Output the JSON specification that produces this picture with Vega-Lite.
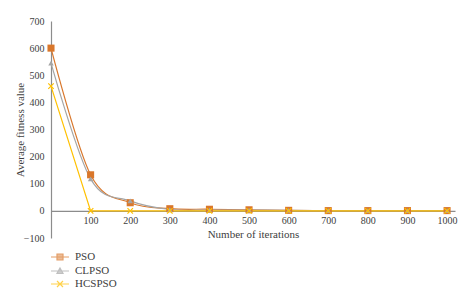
{
  "$schema": "https://vega.github.io/schema/vega-lite/v6.json",
  "width": 404,
  "height": 217,
  "autosize": "none",
  "padding": {"left": 51, "top": 21, "right": 19, "bottom": 64},
  "background": "white",
  "config": {
    "view": {"stroke": null},
    "axis": {"labelFont": "Liberation Serif", "titleFont": "Liberation Serif", "labelFontSize": 10, "titleFontSize": 11, "labelColor": "#404040", "titleColor": "#404040", "titleFontWeight": "normal", "grid": false, "ticks": false, "domainColor": "#8c8c8c", "domainWidth": 1.2},
    "legend": {"labelFont": "Liberation Serif", "labelFontSize": 11, "labelColor": "#404040", "symbolSize": 144, "symbolStrokeWidth": 1.2, "rowPadding": 1, "labelOffset": 8}
  },
  "data": {"values": [
    {"it": 0, "s": "PSO", "v": 600}, {"it": 100, "s": "PSO", "v": 133}, {"it": 200, "s": "PSO", "v": 30}, {"it": 300, "s": "PSO", "v": 8}, {"it": 400, "s": "PSO", "v": 6}, {"it": 500, "s": "PSO", "v": 4}, {"it": 600, "s": "PSO", "v": 2}, {"it": 700, "s": "PSO", "v": 1}, {"it": 800, "s": "PSO", "v": 1}, {"it": 900, "s": "PSO", "v": 1}, {"it": 1000, "s": "PSO", "v": 1},
    {"it": 0, "s": "CLPSO", "v": 545}, {"it": 100, "s": "CLPSO", "v": 118}, {"it": 200, "s": "CLPSO", "v": 37}, {"it": 300, "s": "CLPSO", "v": 5}, {"it": 400, "s": "CLPSO", "v": 3}, {"it": 500, "s": "CLPSO", "v": 3}, {"it": 600, "s": "CLPSO", "v": 2}, {"it": 700, "s": "CLPSO", "v": 1}, {"it": 800, "s": "CLPSO", "v": 1}, {"it": 900, "s": "CLPSO", "v": 1}, {"it": 1000, "s": "CLPSO", "v": 1},
    {"it": 0, "s": "HCSPSO", "v": 460}, {"it": 100, "s": "HCSPSO", "v": 0}, {"it": 200, "s": "HCSPSO", "v": 0}, {"it": 300, "s": "HCSPSO", "v": 0}, {"it": 400, "s": "HCSPSO", "v": 0}, {"it": 500, "s": "HCSPSO", "v": 0}, {"it": 600, "s": "HCSPSO", "v": 0}, {"it": 700, "s": "HCSPSO", "v": 0}, {"it": 800, "s": "HCSPSO", "v": 0}, {"it": 900, "s": "HCSPSO", "v": 0}, {"it": 1000, "s": "HCSPSO", "v": 0}
  ]},
  "encoding": {
    "x": {"field": "it", "type": "quantitative", "scale": {"domain": [0, 1020], "nice": false, "zero": false},
      "axis": {"title": "Number of iterations", "format": "d", "values": [100, 200, 300, 400, 500, 600, 700, 800, 900, 1000], "offset": -27.125, "labelPadding": 5, "titlePadding": 3}},
    "y": {"field": "v", "type": "quantitative", "scale": {"domain": [-100, 700], "nice": false},
      "axis": {"title": "Average fitness value", "values": [-100, 0, 100, 200, 300, 400, 500, 600, 700], "labelPadding": 7, "titlePadding": -2}}
  },
  "layer": [
    {
      "transform": [{"filter": "datum.s != 'HCSPSO'"}],
      "mark": {"type": "line", "interpolate": "cardinal", "strokeWidth": 1.2},
      "encoding": {"color": {"field": "s", "type": "nominal", "scale": {"range": ["#A5A5A5", "#FFC000", "#D9772B"]}, "legend": null}, "detail": {"field": "s"}}
    },
    {
      "transform": [{"filter": "datum.s == 'HCSPSO'"}],
      "mark": {"type": "line", "strokeWidth": 1.2},
      "encoding": {"color": {"field": "s", "type": "nominal", "legend": null}}
    },
    {
      "transform": [{"filter": "datum.s == 'PSO'"}],
      "mark": {"type": "point", "shape": "square", "filled": true, "size": 50, "opacity": 1},
      "encoding": {"color": {"field": "s", "type": "nominal", "legend": null}}
    },
    {
      "transform": [{"filter": "datum.s == 'CLPSO'"}],
      "mark": {"type": "point", "shape": "triangle-up", "filled": true, "size": 30, "opacity": 1},
      "encoding": {"color": {"field": "s", "type": "nominal", "legend": null}}
    },
    {
      "transform": [{"filter": "datum.s == 'HCSPSO'"}],
      "mark": {"type": "point", "shape": "M-1,-1L1,1M-1,1L1,-1", "filled": false, "size": 30, "strokeWidth": 1.2, "opacity": 1},
      "encoding": {"color": {"field": "s", "type": "nominal", "legend": null}}
    },
    {
      "transform": [{"filter": "false"}],
      "mark": {"type": "point", "filled": true},
      "encoding": {
        "fill": {"field": "s", "type": "nominal", "scale": {"domain": ["PSO", "CLPSO", "HCSPSO"], "range": ["#D9772B", "#A5A5A5", "#FFC000"]},
          "legend": {"title": null, "orient": "none", "legendX": 2, "legendY": 229}},
        "stroke": {"field": "s", "type": "nominal", "scale": {"domain": ["PSO", "CLPSO", "HCSPSO"], "range": ["#D9772B", "#A5A5A5", "#FFC000"]},
          "legend": {"title": null, "orient": "none", "legendX": 2, "legendY": 229}},
        "shape": {"field": "s", "type": "nominal", "scale": {"domain": ["PSO", "CLPSO", "HCSPSO"], "range": ["M-1.5,0H1.5M-0.5,-0.5H0.5V0.5H-0.5Z", "M-1.5,0H1.5M0,-0.5L0.5,0.4H-0.5Z", "M-1.5,0H1.5M-0.5,-0.5L0.5,0.5M-0.5,0.5L0.5,-0.5"]},
          "legend": {"title": null, "orient": "none", "legendX": 2, "legendY": 229}}
      }
    }
  ]
}
